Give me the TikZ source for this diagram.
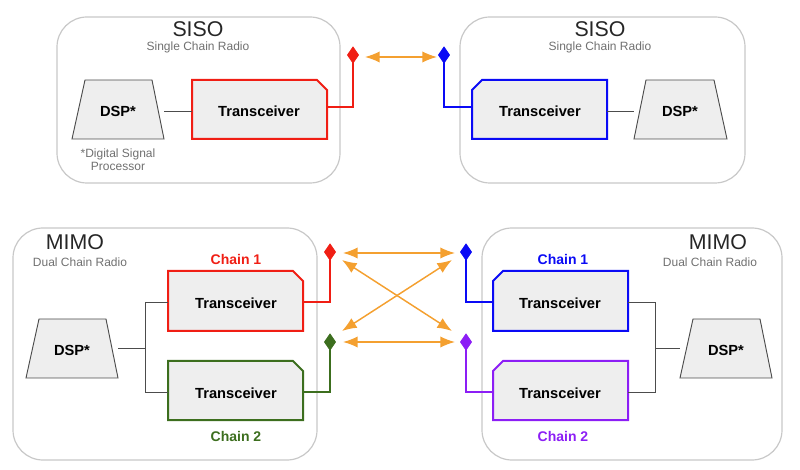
\documentclass[tikz,border=0pt]{standalone}
\usepackage{fontspec}
\setmainfont{Liberation Sans}
\usetikzlibrary{arrows.meta}
\definecolor{cred}{HTML}{F01E14}
\definecolor{cblue}{HTML}{0A0AF5}
\definecolor{cgreen}{HTML}{3C6E1E}
\definecolor{cpurple}{HTML}{8C1EF5}
\definecolor{corange}{HTML}{F4A030}
\definecolor{cpanel}{HTML}{C8C8C8}
\definecolor{cfill}{HTML}{EEEEEE}
\definecolor{cgray}{HTML}{707070}
\begin{document}
\begin{tikzpicture}[x=0.75pt,y=-0.75pt,
 panel/.style={draw=cpanel,line width=0.9pt,rounded corners=22.5pt},
 title/.style={font=\fontsize{16}{18}\selectfont,text=black!85,inner sep=1pt},
 sub/.style={font=\fontsize{9}{10}\selectfont,text=cgray,inner sep=1pt},
 xlab/.style={font=\bfseries\fontsize{11}{13}\selectfont},
 clab/.style={font=\bfseries\fontsize{10.5}{12}\selectfont},
 box/.style={fill=cfill,line width=1.5pt},
 dsp/.style={draw=black!70,fill=cfill,line width=0.7pt},
 wire/.style={draw=black!70,line width=0.7pt},
 feed/.style={line width=1.6pt},
 ant/.style={line width=0.6pt},
 link/.style={draw=corange,line width=1.1pt,{Latex[length=11pt,width=8.5pt]}-{Latex[length=11pt,width=8.5pt]}}]
\useasboundingbox (0,0) rectangle (800,470);
% panels
\draw[panel] (57,17) rectangle (340,183);
\draw[panel] (460,17) rectangle (745,183);
\draw[panel] (13,228) rectangle (317,460);
\draw[panel] (482,228) rectangle (782,460);
\node[title] (t1) at (198,29) {SISO};
\node[sub] (s1) at (198,47) {Single Chain Radio};
\node[title] (t2) at (600,29) {SISO};
\node[sub] (s2) at (600,47) {Single Chain Radio};
\node[title] (t3) at (75,242) {MIMO};
\node[sub] (s3) at (80,262) {Dual Chain Radio};
\node[title] (t4) at (718,242) {MIMO};
\node[sub] (s4) at (710,262) {Dual Chain Radio};
% DSPs
\draw[dsp] (72,139) -- (85,80) -- (152,80) -- (164,139) -- cycle;
\node[xlab] (d1) at (118,111) {DSP*};
\node[sub,align=center] (fn) at (118,160) {*Digital Signal\\Processor};
\draw[dsp] (634,139) -- (646,80) -- (714,80) -- (727,139) -- cycle;
\node[xlab] (d2) at (680,111) {DSP*};
\draw[dsp] (26,378) -- (39,319) -- (106,319) -- (118,378) -- cycle;
\node[xlab] (d3) at (72,350) {DSP*};
\draw[dsp] (680,378) -- (693,319) -- (760,319) -- (772,378) -- cycle;
\node[xlab] (d4) at (726,350) {DSP*};
% transceivers
\draw[box,draw=cred] (192,80) -- (317,80) -- (327,90) -- (327,139) -- (192,139) -- cycle;
\node[xlab] (x1) at (259,111) {Transceiver};
\draw[box,draw=cblue] (482,80) -- (607,80) -- (607,139) -- (472,139) -- (472,90) -- cycle;
\node[xlab] (x2) at (540,111) {Transceiver};
\draw[box,draw=cred] (168,271) -- (293,271) -- (303,281) -- (303,331) -- (168,331) -- cycle;
\node[xlab] (x3) at (236,303) {Transceiver};
\draw[box,draw=cgreen] (168,361) -- (293,361) -- (303,371) -- (303,420) -- (168,420) -- cycle;
\node[xlab] (x4) at (236,393) {Transceiver};
\draw[box,draw=cblue] (503,271) -- (628,271) -- (628,331) -- (493,331) -- (493,281) -- cycle;
\node[xlab] (x5) at (560,303) {Transceiver};
\draw[box,draw=cpurple] (503,361) -- (628,361) -- (628,420) -- (493,420) -- (493,371) -- cycle;
\node[xlab] (x6) at (560,393) {Transceiver};
\node[clab,text=cred] (c1) at (236,259) {Chain 1};
\node[clab,text=cgreen] (c2) at (236,436) {Chain 2};
\node[clab,text=cblue] (c3) at (563,259) {Chain 1};
\node[clab,text=cpurple] (c4) at (563,436) {Chain 2};
% DSP wires
\draw[wire] (164,111) -- (192,111);
\draw[wire] (607,111) -- (634,111);
\draw[wire] (118,348) -- (145,348) (145,302) -- (145,392) (145,302) -- (168,302) (145,392) -- (168,392);
\draw[wire] (628,302) -- (655,302) -- (655,392) -- (628,392) (655,348) -- (680,348);
% antennas
\coordinate (a1) at (353,55); \coordinate (a2) at (444,55);
\coordinate (a3) at (330,252); \coordinate (a4) at (330,342);
\coordinate (a5) at (466,252); \coordinate (a6) at (466,342);
\draw[feed,cred] (327,107) -| (a1);
\draw[feed,cblue] (472,107) -| (a2);
\draw[feed,cred] (303,302) -| (a3);
\draw[feed,cgreen] (303,392) -| (a4);
\draw[feed,cblue] (493,302) -| (a5);
\draw[feed,cpurple] (493,392) -| (a6);
\foreach \a/\c in {a1/cred,a2/cblue,a3/cred,a4/cgreen,a5/cblue,a6/cpurple}{
 \draw[ant,draw=\c,fill=\c] (\a) ++(0,-8) -- ++(5.5,8) -- ++(-5.5,8) -- ++(-5.5,-8) -- cycle;}
% links
\draw[link] (365,57) -- (437,57);
\draw[link] (343,253) -- (455,253);
\draw[link] (343,342) -- (455,342);
\draw[link] (342,260) -- (452,331);
\draw[link] (342,331) -- (452,260);
\end{tikzpicture}
\end{document}
